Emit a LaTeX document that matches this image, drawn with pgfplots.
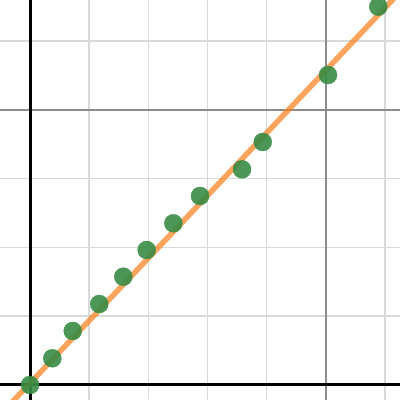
\documentclass[border=0pt]{standalone}
\usepackage{pgfplots}
\pgfplotsset{compat=1.18}
\definecolor{dgreen}{HTML}{388C46}
\definecolor{dorange}{HTML}{FA7E19}
\begin{document}
\begin{tikzpicture}
\begin{axis}[
    width=400pt, height=400pt, scale only axis,
    xmin=-0.507, xmax=6.253, ymin=-0.218, ymax=5.596,
    axis line style={draw=none},
    xtick={1,2,3,4,6}, ytick={1,2,3,5},
    extra x ticks={5}, extra y ticks={4},
    extra x tick labels={}, extra y tick labels={},
    extra tick style={grid style={black!45, line width=1.5pt}},
    xticklabels={}, yticklabels={},
    major tick length=0pt,
    grid=major,
    grid style={black!15, line width=1.5pt},
  ]
  % axes through the origin
  \draw[black, line width=3pt] (axis cs:0,-0.218) -- (axis cs:0,5.596);
  \draw[black, line width=3pt] (axis cs:-0.507,0) -- (axis cs:6.253,0);
  % data points
  \addplot[only marks, mark=*, mark size=9pt, color=dgreen, opacity=0.9,
    mark options={draw=none}] coordinates {
    (0.000, 0.000)
    (0.377, 0.388)
    (0.722, 0.785)
    (1.171, 1.177)
    (1.577, 1.574)
    (1.972, 1.962)
    (2.423, 2.350)
    (2.873, 2.747)
    (3.583, 3.135)
    (3.933, 3.532)
    (5.036, 4.506)
    (5.886, 5.499)
  };
  % fitted line
  \addplot[color=dorange, opacity=0.7, line width=5.5pt] coordinates {
    (-0.6, -0.520)
    (6.4, 5.847)
  };
\end{axis}
\pgfresetboundingbox
\useasboundingbox (current axis.south west) rectangle (current axis.north east);
\end{tikzpicture}
\end{document}
